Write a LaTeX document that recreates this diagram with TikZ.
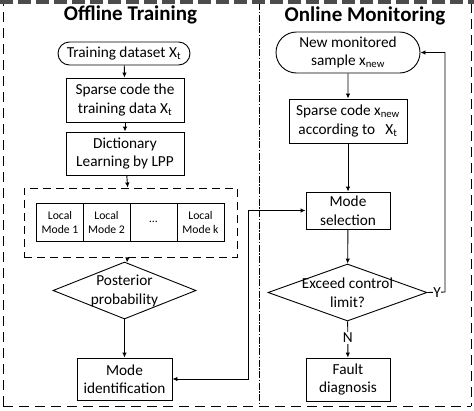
\documentclass[tikz,border=0pt]{standalone}
\usepackage{fontspec}
\setmainfont{Carlito}
\usetikzlibrary{shapes.geometric,shapes.misc,arrows.meta}
\begin{document}
\begin{tikzpicture}[x=1pt,y=-1pt,
  box/.style={draw, line width=0.9pt, rectangle, inner sep=0pt, align=center, font=\fontsize{15.3}{18.5}\selectfont},
  term/.style={draw, line width=0.9pt, rounded rectangle, inner sep=0pt, align=center, font=\fontsize{15.3}{18.5}\selectfont},
  dia/.style={draw, line width=0.9pt, diamond, inner sep=0pt},
  cell/.style={draw, line width=0.9pt, rectangle, inner sep=0pt, minimum width=47pt, minimum height=38pt, align=center, font=\fontsize{11.7}{14}\selectfont},
  arr/.style={-{Latex[length=5pt,width=4.5pt]}, line width=0.9pt},
  arr2/.style={{Latex[length=5pt,width=4.5pt]}-{Latex[length=5pt,width=4.5pt]}, line width=0.9pt},
  lbl/.style={align=center, font=\fontsize{15.3}{18.5}\selectfont},
  ttl/.style={font=\fontsize{21}{25}\selectfont\bfseries},
  frame/.style={line width=1pt, dash pattern=on 10pt off 6pt},
  topframe/.style={line width=3.5pt, gray!60!black, dash pattern=on 13pt off 5pt},
  divider/.style={line width=1pt, dash pattern=on 7pt off 1.5pt on 1.5pt off 1.5pt}
]
\useasboundingbox (0,0) rectangle (474,410);

% frames
\draw[frame] (3,406) -- (3,3);
\draw[frame] (3,406) -- (471,406);
\draw[frame] (471,3) -- (471,406);
\draw[divider] (259,3) -- (259,406);
\draw[topframe] (0,2) -- (474,2);

% titles
\node[ttl] (t1) at (130.5,15) {Offline Training};
\node[ttl] (t2) at (365,15.5) {Online Monitoring};

% left column
\node[term, minimum width=132pt, minimum height=23pt] (train) at (124,53.5) {Training dataset X\textsubscript{t}};
\node[box, minimum width=118pt, minimum height=44pt] (sc1) at (125,100) {Sparse code the\\training data X\textsubscript{t}};
\node[box, minimum width=118pt, minimum height=43pt] (dict) at (125,153.5) {Dictionary\\Learning by LPP};
\node[draw, line width=1pt, dash pattern=on 8pt off 5pt, minimum width=213pt, minimum height=69pt, inner sep=0pt] (modes) at (130.5,222.5) {};
\node[cell] (m1) at (60,222) {Local\\Mode 1};
\node[cell] (m2) at (106.5,222) {Local\\Mode 2};
\node[cell] (m3) at (153.5,222) {\ldots};
\node[cell] (m4) at (200.5,222) {Local\\Mode k};
\node[dia, minimum width=143pt, minimum height=57pt] (post) at (124.5,290.5) {};
\node[lbl] (postt) at (124.5,291) {Posterior\\probability};
\node[box, minimum width=95pt, minimum height=42pt] (modeid) at (124.5,379) {Mode\\identification};

\draw[arr] (train) -- (sc1);
\draw[arr] (sc1) -- (dict);
\draw[arr] (dict) -- (modes);
\draw[arr] (modes) -- (post);
\draw[arr] (post) -- (modeid);

% right column
\node[term, minimum width=144pt, minimum height=41pt] (newsamp) at (348,52.5) {New monitored\\sample x\textsubscript{new}};
\node[box, minimum width=118pt, minimum height=44pt] (sc2) at (348,121) {Sparse code x\textsubscript{new}\\according to \ \ X\textsubscript{t}};
\node[box, minimum width=84pt, minimum height=37pt] (modesel) at (348,210.5) {Mode\\selection};
\node[dia, minimum width=159pt, minimum height=57pt] (exceed) at (347.5,292.5) {};
\node[lbl] (exceedt) at (347.5,292.5) {Exceed control\\limit?};
\node[box, minimum width=84pt, minimum height=43pt] (fault) at (348,379.5) {Fault\\diagnosis};

\draw[arr] (newsamp) -- (sc2);
\draw[arr] (sc2) -- (modesel);
\draw[arr] (modesel) -- (exceed);
\draw[arr] (exceed) -- node[lbl, fill=white, inner sep=1pt, pos=0.45] (nlab) {N} (fault);

\coordinate (yc) at (445,292);
\draw[arr] (exceed.east) -- node[lbl, fill=white, inner sep=0.5pt, pos=0.55] (ylab) {Y} (yc) |- (newsamp.east);

\coordinate (mc) at (248,208);
\draw[arr2] (modesel.west) -- (modesel.west -| mc) |- (modeid.east);
\end{tikzpicture}
\end{document}
